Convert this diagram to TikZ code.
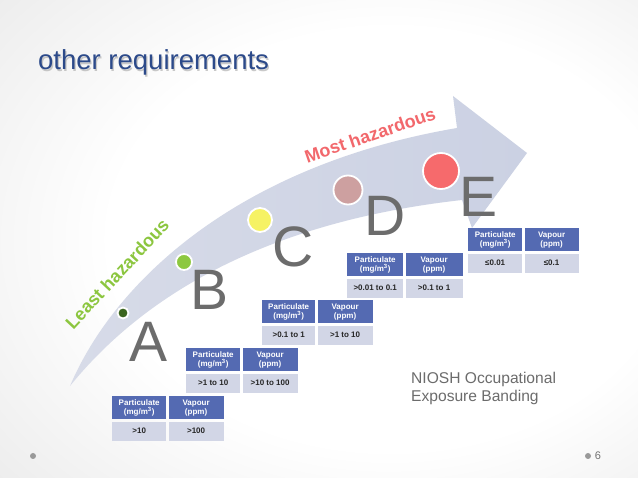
\documentclass[tikz,border=0pt]{standalone}
\usepackage{fontspec}
\setmainfont{Liberation Sans}
\definecolor{titleblue}{RGB}{44,74,138}
\definecolor{bandc}{RGB}{203,209,227}
\definecolor{bandl}{RGB}{215,219,232}
\definecolor{hdrblue}{RGB}{84,106,178}
\definecolor{bodyc}{RGB}{210,214,230}
\definecolor{lettergray}{RGB}{108,108,108}
\definecolor{leastgreen}{RGB}{140,198,63}
\definecolor{mostred}{RGB}{242,104,108}
\definecolor{dotA}{RGB}{58,100,30}
\definecolor{dotB}{RGB}{141,200,64}
\definecolor{dotC}{RGB}{246,242,100}
\definecolor{dotD}{RGB}{205,160,160}
\definecolor{dotE}{RGB}{246,106,108}
\pgfdeclareradialshading{bgshade}{\pgfpoint{8bp}{0bp}}{color(0bp)=(white); color(22bp)=(white); color(50bp)=(black!12); color(75bp)=(black!24)}
\tikzset{
  hdr/.style={fill=hdrblue, text=white, font=\bfseries\fontsize{8}{9}\selectfont, align=center, minimum height=23pt, inner sep=0pt, anchor=north west},
  bdy/.style={fill=bodyc, text=black!85, font=\bfseries\fontsize{8}{9}\selectfont, minimum height=19pt, inner sep=0pt, anchor=north west},
  dot/.style={circle, draw=white, line width=1.8pt, inner sep=0pt},
  bigletter/.style={font=\fontsize{57}{60}\selectfont, text=lettergray, inner sep=0pt},
}
\newcommand{\hztable}[7]{%
  \node[hdr, minimum width=#4] (#1h1) at (#2,#3) {Particulate\\(mg/m\textsuperscript{3})};
  \node[hdr, minimum width=#5] (#1h2) at ([xshift=2pt]#1h1.north east) {Vapour\\(ppm)};
  \node[bdy, minimum width=#4] (#1b1) at ([yshift=-2pt]#1h1.south west) {#6};
  \node[bdy, minimum width=#5] (#1b2) at ([yshift=-2pt]#1h2.south west) {#7};
}
\begin{document}
\begin{tikzpicture}[x=1pt,y=-1pt]
\useasboundingbox (0,0) rectangle (638,478);
\shade[shading=bgshade] (0,0) rectangle (638,478);
% title
\node[anchor=base west, inner sep=0pt, font=\fontsize{27.5}{30}\selectfont, text=black!35, opacity=0.6] (titlesh) at (39.2,71.2) {other requirements};
\node[anchor=base west, inner sep=0pt, font=\fontsize{27.5}{30}\selectfont, text=titleblue] (title) at (38,70) {other requirements};
% band arrow
\shade[left color=bandl, right color=bandc] (70,386) .. controls (115,280) and (240,165) .. (457,128) -- (453,96) -- (527,153) -- (472,228) -- (462,200) .. controls (300,218) and (160,275) .. (70,386) -- cycle;
% labels on band
\node[rotate=47, font=\bfseries\fontsize{18}{20}\selectfont, text=leastgreen] (least) at (117,274) {Least hazardous};
\node[rotate=19, font=\bfseries\fontsize{18}{20}\selectfont, text=mostred] (most) at (370,135) {Most hazardous};
% dots
\node[dot, fill=dotA, minimum size=11pt] (dA) at (123,313) {};
\node[dot, fill=dotB, minimum size=16pt] (dB) at (184,262) {};
\node[dot, fill=dotC, minimum size=24pt] (dC) at (260,220) {};
\node[dot, fill=dotD, minimum size=29pt] (dD) at (348,190) {};
\node[dot, fill=dotE, minimum size=36pt] (dE) at (441,171) {};
% letters
\node[bigletter] (lA) at (149,342) {A};
\node[bigletter] (lB) at (210,290) {B};
\node[bigletter] (lC) at (293,247) {C};
\node[bigletter] (lD) at (385,216) {D};
\node[bigletter] (lE) at (479,197) {E};
% tables
\hztable{tA}{112}{396}{54pt}{55pt}{>10}{>100}
\hztable{tB}{186}{348}{54pt}{55pt}{>1 to 10}{>10 to 100}
\hztable{tC}{262}{300}{53pt}{55pt}{>0.1 to 1}{>1 to 10}
\hztable{tD}{347}{253}{56pt}{57pt}{>0.01 to 0.1}{>0.1 to 1}
\hztable{tE}{468}{228}{54pt}{54pt}{≤0.01}{≤0.1}
% NIOSH
\node[anchor=north west, align=left, inner sep=0pt, font=\fontsize{15.6}{18}\selectfont, text=lettergray] (niosh) at (411,372) {NIOSH Occupational\\Exposure Banding};
% footer
\node[circle, fill=black!40, inner sep=0pt, minimum size=6pt] (fl) at (33,456) {};
\node[circle, fill=black!40, inner sep=0pt, minimum size=6pt] (fr) at (588,456) {};
\node[font=\fontsize{11}{12}\selectfont, text=black!55, inner sep=0pt] (pg) at (598,456) {6};
\end{tikzpicture}
\end{document}
